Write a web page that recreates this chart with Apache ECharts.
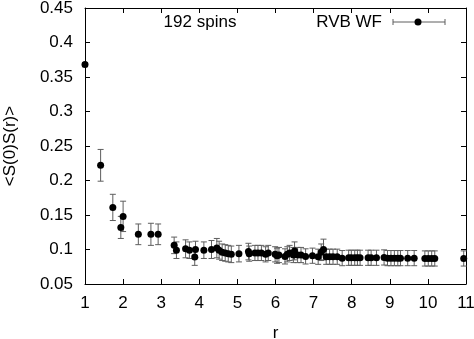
<!DOCTYPE html>
<html>
<head>
<meta charset="utf-8">
<script src="https://cdn.jsdelivr.net/npm/echarts@6/dist/echarts.min.js"></script>
<style>
  html, body { margin: 0; padding: 0; background: #fff; }
  #chart { width: 474px; height: 339px; }
</style>
</head>
<body>
<div id="chart"></div>
<script>
// Spin-spin correlation versus distance for the RVB wave function (192 spins)
const distances = [
  1.00, 1.41, 1.73, 1.94, 2.00, 2.40, 2.73, 2.92, 3.34, 3.40,
  3.64, 3.74, 3.88, 3.90, 4.12, 4.32, 4.46, 4.52, 4.60, 4.68,
  4.76, 4.84, 5.04, 5.29, 5.31, 5.46, 5.54, 5.63, 5.74, 5.81,
  5.99, 6.04, 6.09, 6.25, 6.31, 6.37, 6.47, 6.50, 6.58, 6.67,
  6.79, 6.97, 7.12, 7.20, 7.26, 7.33, 7.42, 7.51, 7.62, 7.75,
  7.92, 7.99, 8.08, 8.15, 8.22, 8.43, 8.51, 8.65, 8.85, 8.94,
  9.03, 9.12, 9.21, 9.28, 9.47, 9.64, 9.92, 10.01, 10.10, 10.18,
  10.94
];
const correlation = [
  0.368, 0.222, 0.161, 0.132, 0.148, 0.122, 0.122, 0.122, 0.106, 0.099,
  0.101, 0.099, 0.089, 0.100, 0.099, 0.100, 0.102, 0.099, 0.096, 0.095,
  0.094, 0.093, 0.094, 0.097, 0.094, 0.095, 0.095, 0.095, 0.093, 0.095,
  0.093, 0.091, 0.092, 0.090, 0.093, 0.095, 0.092, 0.098, 0.092, 0.092,
  0.090, 0.091, 0.0895, 0.096, 0.100, 0.0895, 0.0895, 0.0895, 0.0895, 0.0875,
  0.088, 0.088, 0.088, 0.088, 0.088, 0.088, 0.088, 0.088, 0.0885, 0.0875,
  0.0875, 0.0875, 0.0875, 0.0875, 0.0875, 0.0875, 0.087, 0.087, 0.087, 0.087,
  0.087
];
const errors = [
  0.003, 0.023, 0.019, 0.016, 0.022, 0.015, 0.016, 0.015, 0.012, 0.012,
  0.013, 0.012, 0.012, 0.012, 0.012, 0.013, 0.014, 0.013, 0.012, 0.012,
  0.012, 0.012, 0.012, 0.012, 0.011, 0.011, 0.011, 0.011, 0.011, 0.011,
  0.011, 0.011, 0.011, 0.011, 0.011, 0.011, 0.011, 0.013, 0.011, 0.011,
  0.011, 0.011, 0.011, 0.012, 0.015, 0.011, 0.011, 0.011, 0.011, 0.011,
  0.011, 0.011, 0.011, 0.011, 0.011, 0.011, 0.011, 0.011, 0.011, 0.011,
  0.011, 0.011, 0.011, 0.011, 0.011, 0.011, 0.011, 0.011, 0.011, 0.011,
  0.011
];
const xTicks = [1, 2, 3, 4, 5, 6, 7, 8, 9, 10, 11];
const yTicks = [0.05, 0.1, 0.15, 0.2, 0.25, 0.3, 0.35, 0.4, 0.45];

const FONT = 'Liberation Sans, Arial, Helvetica, sans-serif';
const FS = 17;
const points = distances.map((r, i) => [r, correlation[i]]);
const bars = distances.map((r, i) => [r, correlation[i] - errors[i], correlation[i] + errors[i]]);

const chart = echarts.init(document.getElementById('chart'), null, { renderer: 'canvas' });

function axisCommon(extra) {
  return Object.assign({
    type: 'value',
    axisLine: { show: true, onZero: false, lineStyle: { color: '#000', width: 1 } },
    axisTick: { show: true, inside: true, length: 5, lineStyle: { color: '#000', width: 1 } },
    splitLine: { show: false }
  }, extra);
}

chart.setOption({
  animation: false,
  backgroundColor: '#fff',
  grid: { left: 85, right: 8, top: 8, bottom: 55, show: false, containLabel: false, outerBoundsMode: 'none' },
  xAxis: [
    axisCommon({
      min: xTicks[0], max: xTicks[xTicks.length - 1], interval: 1,
      position: 'bottom',
      name: 'r', nameLocation: 'middle', nameGap: 41,
      nameTextStyle: { fontFamily: FONT, fontSize: FS, color: '#000' },
      axisLabel: { margin: 11, fontFamily: FONT, fontSize: FS, color: '#000' }
    }),
    axisCommon({
      min: xTicks[0], max: xTicks[xTicks.length - 1], interval: 1,
      position: 'top', axisLabel: { show: false }
    })
  ],
  yAxis: [
    axisCommon({
      min: yTicks[0], max: yTicks[yTicks.length - 1], interval: 0.05,
      position: 'left',
      name: '<S(0)S(r)>', nameLocation: 'middle', nameGap: 66, nameRotate: 90,
      nameTextStyle: { fontFamily: FONT, fontSize: FS, color: '#000' },
      axisLabel: {
        margin: 12, fontFamily: FONT, fontSize: FS, color: '#000',
        formatter: v => String(Number(v.toFixed(2)))
      }
    }),
    axisCommon({
      min: yTicks[0], max: yTicks[yTicks.length - 1], interval: 0.05,
      position: 'right', axisLabel: { show: false }
    })
  ],
  series: [
    {
      name: 'error',
      type: 'custom',
      xAxisIndex: 0, yAxisIndex: 0,
      data: bars,
      z: 2,
      renderItem: function (params, api) {
        const x = api.value(0);
        const lo = api.coord([x, api.value(1)]);
        const hi = api.coord([x, api.value(2)]);
        const cap = 3;
        const style = { stroke: '#5e5e5e', lineWidth: 1, fill: null };
        return {
          type: 'group',
          children: [
            { type: 'line', shape: { x1: lo[0], y1: lo[1], x2: hi[0], y2: hi[1] }, style: style },
            { type: 'line', shape: { x1: lo[0] - cap, y1: lo[1], x2: lo[0] + cap, y2: lo[1] }, style: style },
            { type: 'line', shape: { x1: hi[0] - cap, y1: hi[1], x2: hi[0] + cap, y2: hi[1] }, style: style }
          ]
        };
      }
    },
    {
      name: 'RVB WF',
      type: 'scatter',
      data: points,
      symbol: 'circle',
      symbolSize: 7,
      z: 3,
      itemStyle: { color: '#000', opacity: 1 }
    }
  ],
  graphic: [
    {
      type: 'text', z: 10,
      x: 200, y: 22,
      style: { text: '192 spins', font: FS + 'px ' + FONT, fill: '#000', align: 'center', verticalAlign: 'middle' }
    },
    {
      type: 'text', z: 10,
      x: 382, y: 22,
      style: { text: 'RVB WF', font: FS + 'px ' + FONT, fill: '#000', align: 'right', verticalAlign: 'middle' }
    },
    {
      type: 'group', z: 10,
      children: [
        { type: 'line', shape: { x1: 393, y1: 22, x2: 445, y2: 22 }, style: { stroke: '#5e5e5e', lineWidth: 1 } },
        { type: 'line', shape: { x1: 393, y1: 19, x2: 393, y2: 25 }, style: { stroke: '#5e5e5e', lineWidth: 1 } },
        { type: 'line', shape: { x1: 445, y1: 19, x2: 445, y2: 25 }, style: { stroke: '#5e5e5e', lineWidth: 1 } },
        { type: 'circle', shape: { cx: 418, cy: 22, r: 3.5 }, style: { fill: '#000' } }
      ]
    }
  ]
});
</script>
</body>
</html>
